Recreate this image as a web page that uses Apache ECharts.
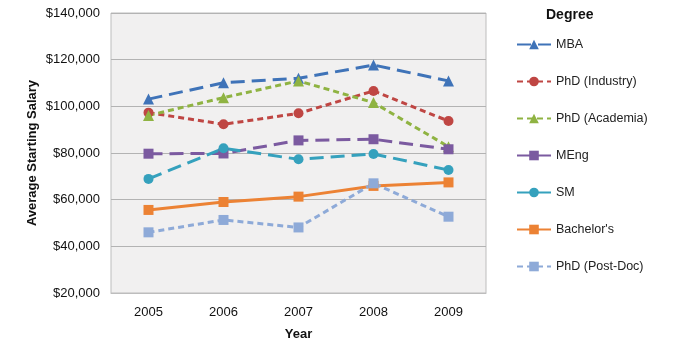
<!DOCTYPE html>
<html>
<head>
<meta charset="utf-8">
<script src="https://cdn.jsdelivr.net/npm/echarts@6/dist/echarts.min.js"></script>
<style>
  html, body { margin: 0; padding: 0; background: #fff; }
  #main { width: 675px; height: 348px; }
</style>
</head>
<body>
<div id="main"></div>
<script>
// data
var years = ['2005', '2006', '2007', '2008', '2009'];
var mba = [103100, 110100, 112000, 117700, 110900];
var phdIndustry = [97300, 92300, 97000, 106600, 93700];
var phdAcademia = [96100, 103700, 110900, 101600, 82700];
var meng = [79700, 79800, 85400, 85900, 81600];
var sm = [68900, 82000, 77300, 79600, 72700];
var bachelors = [55600, 59000, 61300, 65900, 67400];
var phdPostDoc = [46000, 51300, 48100, 67000, 52700];

var font = 'Liberation Sans';
var longDash = [14, 7];
var shortDash = [6, 4];

function line(name, data, color, symbol, dash, size) {
  return {
    name: name,
    type: 'line',
    data: data,
    symbol: symbol,
    symbolSize: size || 10,
    lineStyle: { color: color, width: 3, type: dash },
    itemStyle: { color: color },
    z: 3
  };
}

var myChart = echarts.init(document.getElementById('main'));
myChart.setOption({
  animation: false,
  textStyle: { fontFamily: font },
  title: {
    text: 'Degree',
    left: 541, top: 3,
    textStyle: { fontFamily: font, fontSize: 14, fontWeight: 'bold', color: '#111' }
  },
  legend: {
    orient: 'vertical',
    left: 511, top: 33,
    itemWidth: 34, itemHeight: 12,
    itemGap: 24,
    textStyle: { fontFamily: font, fontSize: 12.5, color: '#222' },
    data: ['MBA', 'PhD (Industry)', 'PhD (Academia)', 'MEng', 'SM', "Bachelor's", 'PhD (Post-Doc)']
  },
  grid: {
    left: 111, right: 189, top: 13, bottom: 55,
    show: true,
    backgroundColor: '#f1f0f0',
    borderColor: '#bdbdbd',
    borderWidth: 1
  },
  xAxis: {
    type: 'category',
    data: years,
    boundaryGap: true,
    name: 'Year',
    nameLocation: 'middle',
    nameGap: 35,
    nameTextStyle: { fontFamily: font, fontSize: 13, fontWeight: 'bold', color: '#111' },
    axisLine: { lineStyle: { color: '#bdbdbd' } },
    axisTick: { show: false },
    axisLabel: { fontFamily: font, fontSize: 13, color: '#111', margin: 13 }
  },
  yAxis: {
    type: 'value',
    min: 20000, max: 140000, interval: 20000,
    name: 'Average Starting Salary',
    nameLocation: 'middle',
    nameGap: 72,
    nameMoveOverlap: false,
    nameTextStyle: { fontFamily: font, fontSize: 13, fontWeight: 'bold', color: '#111' },
    axisLine: { show: false },
    axisTick: { show: false },
    splitLine: { lineStyle: { color: '#b3b3b3', width: 1 } },
    axisLabel: {
      fontFamily: font, fontSize: 13, color: '#111', margin: 11,
      formatter: function (v) { return '$' + v.toLocaleString('en-US'); }
    }
  },
  series: [
    line('MBA', mba, '#3f73b8', 'triangle', longDash, 11),
    line('PhD (Industry)', phdIndustry, '#bf4643', 'circle', shortDash),
    line('PhD (Academia)', phdAcademia, '#8fb342', 'triangle', shortDash, 11),
    line('MEng', meng, '#7b5aa0', 'rect', longDash),
    line('SM', sm, '#35a1bd', 'circle', longDash),
    line("Bachelor's", bachelors, '#ec8234', 'rect', 'solid'),
    line('PhD (Post-Doc)', phdPostDoc, '#8eaad8', 'rect', shortDash)
  ]
});
</script>
</body>
</html>
